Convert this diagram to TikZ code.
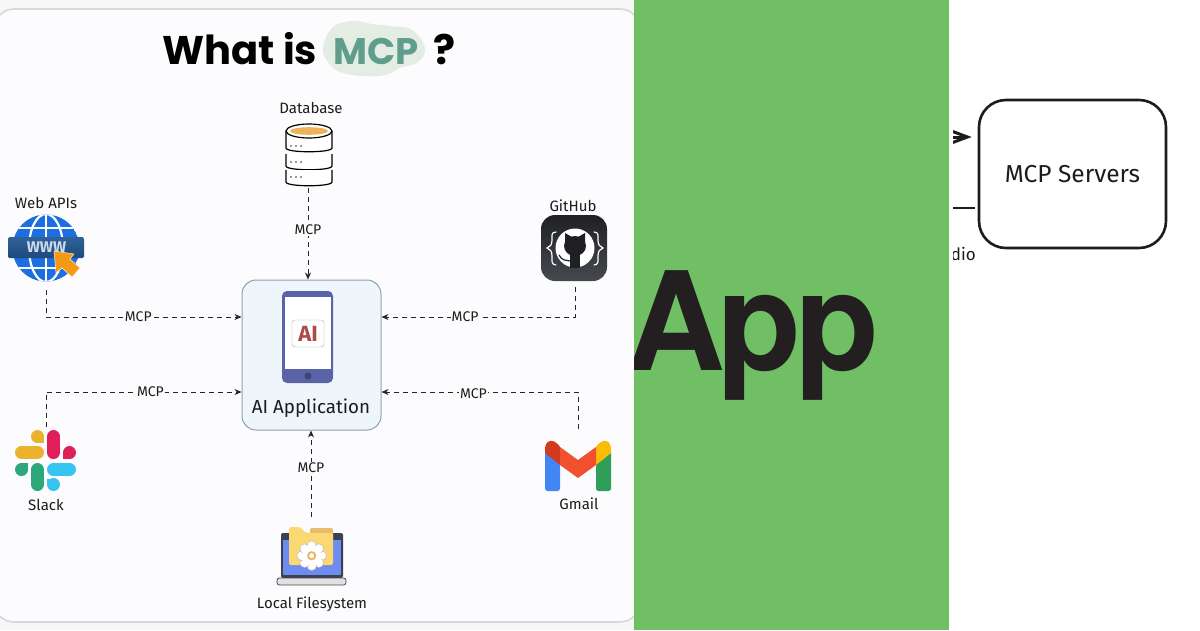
\documentclass[tikz,border=0pt]{standalone}
\usepackage{fontspec}
\usetikzlibrary{arrows.meta,shapes.geometric}
\setmainfont{Fira Sans}
\newfontfamily\titlefont{Poppins}
\newfontfamily\bigsans{TeX Gyre Heros}
\definecolor{panelfill}{HTML}{FCFCFE}
\definecolor{panelline}{HTML}{D3D9DC}
\definecolor{greenbar}{HTML}{70BF65}
\definecolor{teal}{HTML}{5F9E8D}
\definecolor{blobc}{HTML}{E3EDE3}
\definecolor{appfill}{HTML}{EEF5FB}
\definecolor{appline}{HTML}{8DA0B2}
\definecolor{phone}{HTML}{5A62A8}
\definecolor{inkc}{HTML}{1C1C1C}
\definecolor{appink}{HTML}{231F20}
\definecolor{gblue}{HTML}{4285F4}
\definecolor{ggreen}{HTML}{2E9E58}
\definecolor{gyellow}{HTML}{FBBC04}
\definecolor{gred}{HTML}{F1502F}
\definecolor{gdred}{HTML}{D33B20}
\definecolor{syellow}{HTML}{ECB22E}
\definecolor{sred}{HTML}{E01E5A}
\definecolor{sgreen}{HTML}{2EA87A}
\definecolor{sblue}{HTML}{36C5F0}
\definecolor{globe}{HTML}{1B6FE0}
\definecolor{bandtop}{HTML}{2F6299}
\definecolor{bandbot}{HTML}{1F4A7C}
\definecolor{wwwink}{HTML}{CBDAEE}
\definecolor{dbor}{HTML}{EDB35A}
\definecolor{curs}{HTML}{F59A16}
\definecolor{ghtop}{HTML}{1F2023}
\definecolor{ghbot}{HTML}{46494E}
\definecolor{lapframe}{HTML}{3B4150}
\definecolor{lapblue}{HTML}{6C8CF0}
\definecolor{folder}{HTML}{FBD874}
\definecolor{folderb}{HTML}{E8BC6A}
\tikzset{
  x=1pt,y=-1pt,
  hit/.style={inner sep=0pt,outer sep=0pt,minimum width=#1},
  itemlabel/.style={text=inkc,font=\fontsize{15}{17}\selectfont,inner sep=0pt},
  conn/.style={draw=black!85,line width=.9pt,dash pattern=on 5pt off 4pt,-{Stealth[length=7pt,width=6pt]}},
  mcplabel/.style={fill=panelfill,text=inkc,font=\fontsize{14}{16}\selectfont,inner sep=1pt},
  petal/.style={fill=white,draw=black!30,line width=.4pt},
  pill/.style={line width=13pt,line cap=round}
}
\begin{document}
\begin{tikzpicture}
\useasboundingbox (0,0) rectangle (1200,630);
\fill[white] (0,0) rectangle (1200,630);
\begin{scope}
\clip (0,0) rectangle (634,630);
\fill[white!97!black] (0,0) rectangle (634,630);
\draw[panelline,fill=panelfill,line width=1.6pt,rounded corners=20pt] (-6,9) rectangle (640,622);
\end{scope}
% title
\fill[blobc] plot[smooth cycle,tension=.7] coordinates {(323,48)(332,28)(352,21)(372,24)(390,26)(412,30)(425,48)(418,62)(400,68)(385,75)(362,76)(340,72)(328,62)};
\node[anchor=base west,inner sep=0pt,text=black,font=\titlefont\bfseries\fontsize{40}{44}\selectfont] (title) at (162,64) {What is};
\node[anchor=base west,inner sep=0pt,text=teal,font=\titlefont\bfseries\fontsize{37}{44}\selectfont] (titlemcp) at (333,64) {MCP};
\node[anchor=base west,inner sep=0pt,text=black,font=\titlefont\bfseries\fontsize{41}{44}\selectfont] (titleq) at (433,64) {?};
% AI application
\node[draw=appline,fill=appfill,line width=1pt,rounded corners=14pt,minimum width=139pt,minimum height=150pt,inner sep=0pt] (app) at (311.5,355) {};
\fill[phone,rounded corners=5pt] (282,291) rectangle (333,383);
\fill[white] (285,297) rectangle (331,369);
\fill[phone!70!black] (308,376) circle (3.5);
\node[draw=black!35,fill=white,rounded corners=3pt,minimum width=32pt,minimum height=27pt,inner sep=0pt,text={rgb,255:red,176;green,74;blue,74},font=\bfseries\fontsize{22}{24}\selectfont] (ai) at (308,333.5) {AI};
\node[inner sep=0pt,text=inkc,font=\fontsize{18.8}{21}\selectfont] (applabel) at (311,408) {AI Application};
% Database
\node[itemlabel] (dblabel) at (311,108) {Database};
\node[hit=46pt,minimum height=66pt] (db) at (308,155) {};
\foreach \y in {154,170}{
  \draw[black,fill=white,line width=1.2pt] (286,\y) -- (286,\y+12) .. controls (286,\y+17) and (332,\y+17) .. (332,\y+12) -- (332,\y);
}
\draw[black,fill=white,line width=1.2pt] (286,131) -- (286,148) .. controls (286,153) and (332,153) .. (332,148) -- (332,131);
\draw[black,fill=white,line width=1.2pt] (309,131) ellipse (23 and 7);
\fill[dbor] (309,131) ellipse (19 and 3.8);
\foreach \y in {146,162,177}{\foreach \x in {291,296,301}{\fill[black!80] (\x,\y) circle (.9);}}
% Web APIs
\node[itemlabel] (weblabel) at (46,203) {Web APIs};
\node[hit=76pt,minimum height=86pt] (web) at (46,247) {};
\begin{scope}
\clip (46,248) circle (33.5);
\fill[globe] (46,248) circle (33.5);
\draw[white,line width=2.2pt] (46,248) ellipse (17 and 34);
\draw[white,line width=2.2pt] (46,214) -- (46,282);
\draw[white,line width=2.2pt] (12,228) -- (80,228) (12,268) -- (80,268);
\end{scope}
\shade[top color=bandtop,bottom color=bandbot,rounded corners=1.5pt] (8,237) rectangle (84,258);
\node[inner sep=0pt,text=wwwink,font=\bfseries\fontsize{15.5}{16}\selectfont] (www) at (46.5,247.5) {WWW};
\fill[curs,draw=white!85!orange,line width=.5pt] (54,251) -- (74,254) -- (70,259) -- (80,268) -- (72,277) -- (62,268) -- (56,273) -- cycle;
% GitHub
\node[itemlabel] (ghlabel) at (573,206) {GitHub};
\node[hit=66pt,minimum height=74pt] (gh) at (575,250) {};
\shade[top color=ghtop,bottom color=ghbot,rounded corners=14pt] (541,215) rectangle (607,281);
\fill[white] (575,248) circle (19.5);
\fill[ghtop] (575,246) ellipse (11 and 10);
\fill[ghtop] (565,243) -- (565,233) -- (572,237) -- (578,237) -- (585,233) -- (585,243) -- cycle;
\fill[ghtop] (570,252) rectangle (580,268);
\draw[ghtop,line width=1.2pt] (559,255) .. controls (562,261) and (566,260) .. (570,261);
\draw[white,line width=1.2pt,line cap=round] (556,232) .. controls (551,232) and (552,236) .. (552,240) .. controls (552,245) and (550,247) .. (547,248) .. controls (550,249) and (552,251) .. (552,256) .. controls (552,260) and (551,265) .. (556,265);
\draw[white,line width=1.2pt,line cap=round] (594,232) .. controls (599,232) and (598,236) .. (598,240) .. controls (598,245) and (600,247) .. (603,248) .. controls (600,249) and (598,251) .. (598,256) .. controls (598,260) and (599,265) .. (594,265);
% Slack
\node[hit=62pt,minimum height=66pt] (slack) at (46,460) {};
\node[itemlabel] (slacklabel) at (46,505) {Slack};
\draw[syellow,pill] (21.5,452.5) -- (37.5,452.5);
\fill[syellow] (37.5,436.5) circle (6.5); \fill[syellow] (37.5,436.5) rectangle (44,443);
\draw[sred,pill] (53.5,436.5) -- (53.5,452.5);
\fill[sred] (69.5,452.5) circle (6.5); \fill[sred] (63,452.5) rectangle (69.5,459);
\draw[sgreen,pill] (37.5,469.5) -- (37.5,484.5);
\fill[sgreen] (21.5,469.5) circle (6.5); \fill[sgreen] (21.5,463) rectangle (28,469.5);
\draw[sblue,pill] (53.5,469.5) -- (69.5,469.5);
\fill[sblue] (53.5,484.5) circle (6.5); \fill[sblue] (47,479) rectangle (53.5,484.5);
% Gmail
\node[hit=66pt,minimum height=74pt] (gmail) at (578,466) {};
\node[itemlabel] (gmaillabel) at (579,504) {Gmail};
\fill[gblue,rounded corners=2.5pt] (545,450) -- (560,450) -- (560,491) -- (545,491) -- cycle;
\fill[ggreen,rounded corners=2.5pt] (596,450) -- (611,450) -- (611,491) -- (596,491) -- cycle;
\fill[gyellow] (596,447) .. controls (600,441) and (604,440.5) .. (606,441) .. controls (609,441.5) and (611,445) .. (611,449) -- (611,453) -- (596,465) -- cycle;
\fill[gdred] (560,447) .. controls (556,441) and (552,440.5) .. (550,441) .. controls (547,441.5) and (545,445) .. (545,449) -- (545,453) -- (560,465) -- cycle;
\fill[gred] (560,447) -- (578,460) -- (596,447) -- (596,465) -- (578,478) -- (560,465) -- cycle;
% Local filesystem
\node[hit=70pt,minimum height=78pt] (fs) at (311,556) {};
\node[itemlabel] (fslabel) at (312,604) {Local Filesystem};
\fill[lapframe,rounded corners=2pt] (281,533) rectangle (343,578);
\fill[lapblue] (283,540) rectangle (341,575);
\draw[black!70,fill=black!12,line width=.8pt,rounded corners=2.5pt] (277,578) rectangle (346,585);
\fill[folderb,rounded corners=2pt] (310,528) rectangle (333,540);
\fill[folder,rounded corners=2pt] (289,527) -- (300,527) -- (306,533) -- (333,533) -- (333,565) -- (289,565) -- cycle;
\foreach \a in {0,45,...,315}{\fill[petal] (311.7,555.7) ++(\a:10) circle (4.8);}
\fill[white] (311.7,555.7) circle (10);
\draw[dbor,fill=white,line width=1.8pt] (311.7,555.7) circle (3.6);
% named ends on the application box
\coordinate (appw1) at (241.5,317);
\coordinate (appw2) at (241.5,392);
\coordinate (appe1) at (381.5,317);
\coordinate (appe2) at (381.5,392);
% connectors
\draw[conn] (db.south) -- node[mcplabel,pos=.46] (m1) {MCP} (db.south |- app.north);
\draw[conn] (web.south) |- node[mcplabel,pos=.736] (m2) {MCP} (appw1);
\draw[conn] (gh.south) |- node[mcplabel,pos=.784] (m3) {MCP} (appe1);
\draw[conn] (slack.north) |- node[mcplabel,pos=.767] (m4) {MCP} (appw2);
\draw[conn] (gmail.north) |- node[mcplabel,pos=.766,yshift=-2pt] (m5) {MCP} (appe2);
\draw[conn] (fs.north) -- node[mcplabel,pos=.57] (m6) {MCP} (fs.north |- app.south);
% right part
\node[draw=inkc,fill=white,line width=2.6pt,rounded corners=27pt,minimum width=187pt,minimum height=148pt,inner sep=0pt,text=inkc,font=\fontsize{24.5}{27}\selectfont] (srv) at (1072.5,174) {MCP Servers};
\coordinate (srcin) at (940,137);
\coordinate (srcout) at (940,208);
\begin{scope}
\clip (953,0) rectangle (1200,630);
\draw[inkc,line width=3pt,-{Straight Barb[length=20pt,width=15pt]}] (srcin) -- ([xshift=-6pt]srv.west |- srcin);
\draw[inkc,line width=2.6pt] (srcout) -- ([xshift=-3pt]srv.west |- srcout);
\node[anchor=base east,inner sep=0pt,text=inkc,font=\fontsize{17}{19}\selectfont] (stdio) at (976,260) {dio};
\end{scope}
% green column
\fill[greenbar] (634,0) rectangle (949,630);
\begin{scope}
\clip (634,0) rectangle (949,630);
\node[anchor=base west,inner sep=0pt,text=appink,font=\bigsans\bfseries\fontsize{137}{140}\selectfont] (applbl) at (626,370) {A\kern-8pt p\kern-5.7pt p};
\end{scope}
\end{tikzpicture}
\end{document}
